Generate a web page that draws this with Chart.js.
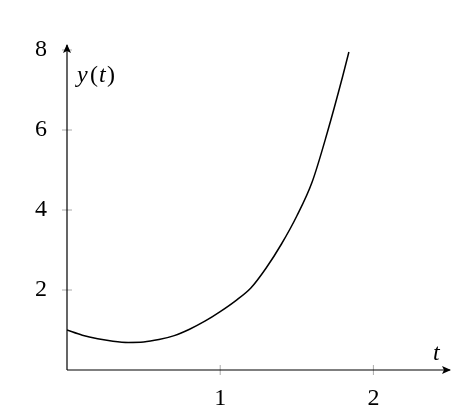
<!DOCTYPE html>
<html><head><meta charset="utf-8">
<script src="https://cdn.jsdelivr.net/npm/chart.js@4/dist/chart.umd.min.js"></script>
<style>html,body{margin:0;background:#fff}#wrap{width:474px;height:420px}</style>
</head><body><div id="wrap"><canvas id="c"></canvas></div>
<script>
const tValues = [0, 0.1, 0.2, 0.3, 0.4, 0.5, 0.6, 0.7, 0.8, 0.9, 1.0, 1.1, 1.2, 1.3, 1.4, 1.5, 1.6, 1.7, 1.8, 1.84];
const yValues = [1.0, 0.87, 0.78, 0.72, 0.69, 0.70, 0.76, 0.86, 1.02, 1.22, 1.46, 1.73, 2.05, 2.55, 3.15, 3.85, 4.7, 5.95, 7.35, 7.95];
const xTicks = [1, 2];
const yTicks = [2, 4, 6, 8];
const FONT = '"Liberation Serif", serif';

const axesPlugin = {
  id: 'axes',
  afterDraw(chart) {
    const { ctx, chartArea: a, scales: { x, y } } = chart;
    const x0 = x.getPixelForValue(0), y0 = y.getPixelForValue(0);
    ctx.save();
    ctx.strokeStyle = '#aaa'; ctx.lineWidth = 1;
    yTicks.forEach(v => { const p = y.getPixelForValue(v); ctx.beginPath(); ctx.moveTo(x0 - 5, p); ctx.lineTo(x0 + 5, p); ctx.stroke(); });
    xTicks.forEach(v => { const p = x.getPixelForValue(v); ctx.beginPath(); ctx.moveTo(p, y0 - 5); ctx.lineTo(p, y0 + 5); ctx.stroke(); });
    ctx.strokeStyle = '#000'; ctx.fillStyle = '#000'; ctx.lineWidth = 1.2;
    ctx.beginPath(); ctx.moveTo(x0, y0); ctx.lineTo(a.right, y0); ctx.moveTo(x0, y0); ctx.lineTo(x0, a.top); ctx.stroke();
    ctx.beginPath(); ctx.moveTo(a.right + 1, y0); ctx.lineTo(a.right - 8, y0 - 4); ctx.lineTo(a.right - 6, y0); ctx.lineTo(a.right - 8, y0 + 4); ctx.closePath(); ctx.fill();
    ctx.beginPath(); ctx.moveTo(x0, a.top - 1); ctx.lineTo(x0 - 4, a.top + 8); ctx.lineTo(x0, a.top + 6); ctx.lineTo(x0 + 4, a.top + 8); ctx.closePath(); ctx.fill();
    ctx.font = 'italic 24px ' + FONT; ctx.textBaseline = 'alphabetic'; ctx.textAlign = 'left';
    ctx.fillText('y', 77, 82);
    ctx.font = '24px ' + FONT; ctx.fillText('(', 90, 82);
    ctx.font = 'italic 24px ' + FONT; ctx.fillText('t', 99, 82);
    ctx.font = '24px ' + FONT; ctx.fillText(')', 107, 82);
    ctx.font = 'italic 24px ' + FONT; ctx.fillText('t', 433, 360);
    ctx.restore();
  }
};

new Chart(document.getElementById('c'), {
  type: 'line',
  data: { datasets: [{ data: tValues.map((t, i) => ({ x: t, y: yValues[i] })), borderColor: '#000', borderWidth: 1.5, pointRadius: 0, cubicInterpolationMode: 'monotone' }] },
  options: {
    responsive: true, maintainAspectRatio: false, animation: false,
    layout: { padding: { top: 45, right: 24, left: 0, bottom: 0 } },
    plugins: { legend: { display: false }, tooltip: { enabled: false } },
    scales: {
      x: { type: 'linear', min: 0, max: 2.5, grid: { display: false }, border: { display: false },
        afterBuildTicks: s => { s.ticks = xTicks.map(v => ({ value: v })); },
        afterFit: s => { s.height = 50; },
        ticks: { color: '#000', font: { family: FONT, size: 24 }, padding: 6 } },
      y: { min: 0, max: 8.125, grid: { display: false }, border: { display: false },
        afterBuildTicks: s => { s.ticks = yTicks.map(v => ({ value: v })); },
        afterFit: s => { s.width = 67; },
        ticks: { color: '#000', font: { family: FONT, size: 24 }, padding: 12 } }
    }
  },
  plugins: [axesPlugin]
});
</script></body></html>
